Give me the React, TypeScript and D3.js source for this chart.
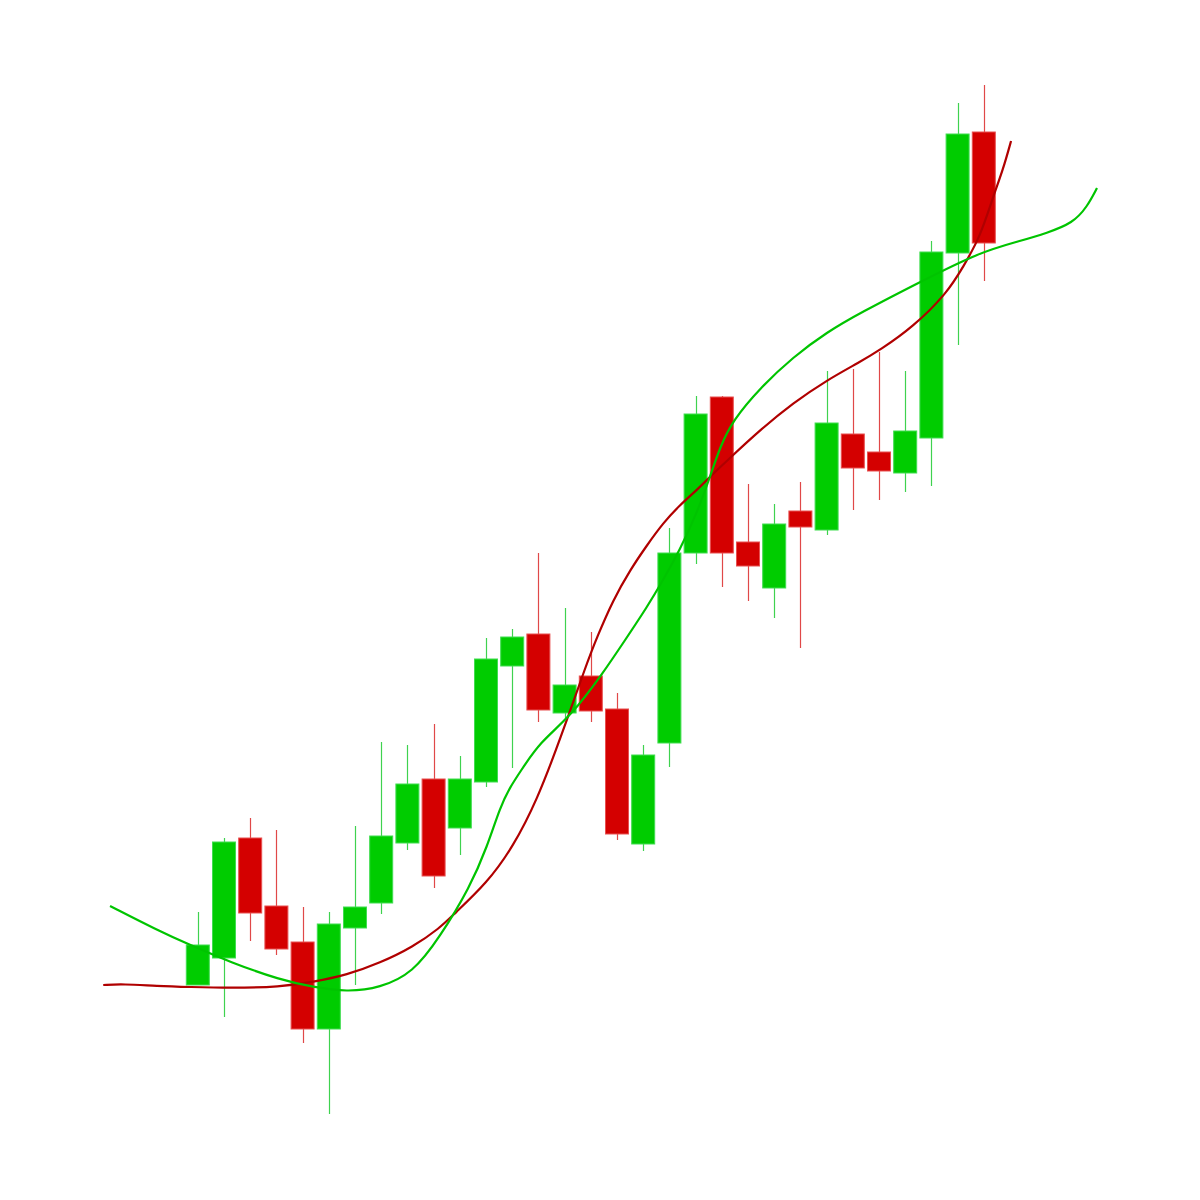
import React from "react";
import * as d3 from "d3";

const opens = [16.5, 19.2, 31.2, 24.4, 20.8, 12.1, 22.2, 24.7, 30.7, 37.1, 32.2, 36.8, 48.4, 51.6, 43.7, 47.4, 44.1, 30.6, 40.7, 59.7, 75.3, 60.8, 56.2, 63.9, 62.0, 71.6, 69.8, 67.7, 71.2, 89.7, 101.8];
const closes = [20.5, 30.8, 23.7, 20.1, 12.1, 22.6, 24.3, 31.4, 36.6, 27.4, 37.1, 49.1, 51.3, 44.0, 46.5, 43.9, 31.6, 39.5, 59.7, 73.6, 59.7, 58.4, 62.6, 62.3, 72.7, 68.2, 67.9, 71.9, 89.8, 101.6, 90.7];
const highs = [23.8, 31.2, 33.2, 32.0, 24.3, 23.8, 32.4, 40.8, 40.5, 42.6, 39.4, 51.2, 52.1, 59.7, 54.2, 51.8, 45.7, 40.5, 62.2, 75.4, 75.4, 66.6, 64.6, 66.8, 77.9, 78.1, 79.8, 77.9, 90.9, 104.7, 106.5];
const lows = [16.5, 13.3, 20.9, 19.5, 10.7, 3.6, 16.5, 23.6, 30.0, 26.2, 29.5, 36.3, 38.2, 42.8, 43.2, 42.8, 31.0, 29.9, 38.3, 58.6, 56.3, 54.9, 53.2, 50.2, 61.5, 64.0, 65.0, 65.8, 66.4, 80.5, 86.9];

const greenLineX = [-3.35, -1.56, -0.3, 1.23, 3.14, 4.4, 5.69, 6.95, 8.21, 9.24, 10.39, 11.04, 11.54, 11.92, 12.3, 13.06, 14.21, 15.47, 16.31, 17.15, 17.76, 18.4, 19.05, 19.55, 19.93, 20.43, 21.46, 22.72, 24.02, 25.27, 27.56, 29.85, 31.38, 32.41, 33.4, 33.94, 34.32];
const greenLineY = [24.4, 22.0, 20.5, 18.8, 17.0, 16.3, 15.8, 16.2, 17.7, 21.3, 26.3, 30.3, 34.3, 36.3, 37.8, 40.8, 43.3, 47.7, 51.0, 54.3, 57.0, 60.0, 63.7, 67.3, 70.3, 73.0, 76.2, 79.3, 81.8, 83.7, 86.8, 89.8, 90.9, 91.7, 92.7, 94.3, 96.2];

const redLineX = [-3.61, -2.85, -1.56, -0.3, 1.23, 3.14, 4.4, 5.69, 6.95, 8.21, 9.24, 9.74, 11.04, 12.03, 12.95, 13.82, 14.85, 15.24, 15.85, 16.5, 17.15, 17.76, 18.4, 19.05, 19.66, 20.31, 21.46, 22.72, 24.02, 25.27, 26.04, 27.3, 28.6, 29.21, 29.86, 30.35, 30.73, 31.04];
const redLineY = [16.5, 16.6, 16.4, 16.3, 16.2, 16.3, 16.8, 17.5, 18.7, 20.3, 22.2, 23.5, 26.7, 30.3, 35.0, 41.0, 48.7, 51.3, 55.0, 58.0, 60.5, 62.7, 64.5, 66.0, 67.6, 69.2, 72.0, 74.7, 77.0, 78.8, 80.0, 82.3, 85.7, 88.3, 91.3, 95.3, 98.0, 100.9];

const W = 1200;
const H = 1200;

export default function App() {
  const x = d3.scaleLinear().domain([0, 30]).range([197.8, 983.8]);
  const y = d3.scaleLinear().domain([0, 110]).range([1150, 50]);
  const bw = 23;

  const line = d3
    .line<[number, number]>()
    .x((d) => x(d[0]))
    .y((d) => y(d[1]))
    .curve(d3.curveBasis);

  const greenPts: [number, number][] = greenLineX.map((v, i) => [v, greenLineY[i]]);
  const redPts: [number, number][] = redLineX.map((v, i) => [v, redLineY[i]]);

  return (
    <svg
      width={W}
      height={H}
      style={{ position: "absolute", left: 0, top: 0, background: "#fff" }}
    >
      <rect width={W} height={H} fill="#ffffff" />
      {opens.map((o, i) => {
        const c = closes[i];
        const up = c >= o;
        const cx = Math.round(x(i)) + 0.5;
        const top = y(Math.max(o, c));
        const bot = y(Math.min(o, c));
        return (
          <g key={i}>
            <line
              x1={cx}
              x2={cx}
              y1={y(highs[i])}
              y2={y(lows[i])}
              stroke={up ? "#3fd24f" : "#e04848"}
              strokeWidth={1.2}
            />
            <rect
              x={x(i) - bw / 2}
              y={top}
              width={bw}
              height={Math.max(1, bot - top)}
              fill={up ? "#00cc00" : "#d40000"}
              stroke={up ? "#40dd50" : "#e85050"}
              strokeWidth={1}
            />
          </g>
        );
      })}
      <path d={line(redPts) || ""} fill="none" stroke="#b00000" strokeWidth={2.2} />
      <path d={line(greenPts) || ""} fill="none" stroke="#00c400" strokeWidth={2.2} />
    </svg>
  );
}
